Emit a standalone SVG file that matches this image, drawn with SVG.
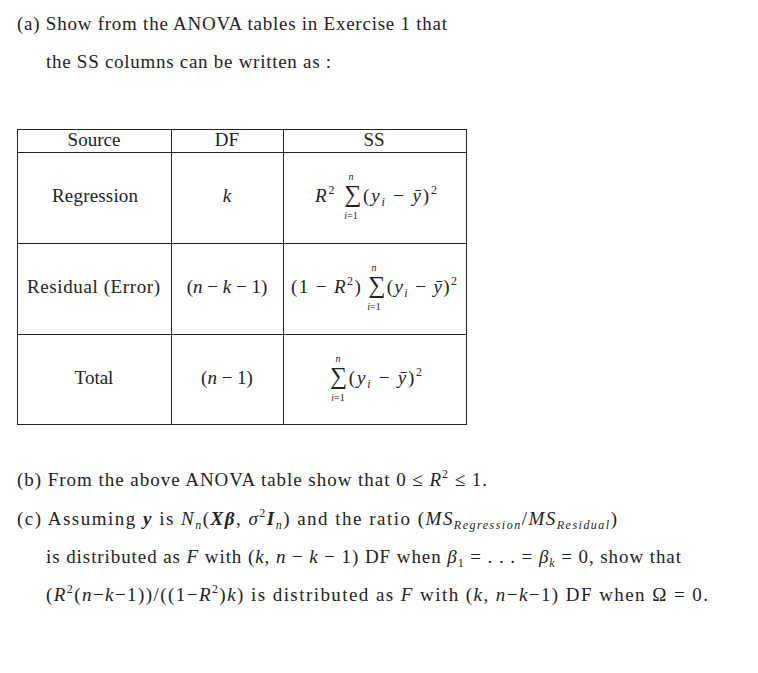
<svg xmlns="http://www.w3.org/2000/svg" width="758" height="673" viewBox="0 0 758 673">
<style>
text{font-family:"Liberation Serif","DejaVu Serif",serif;font-size:19px;fill:#222}
.i{font-style:italic}
.s{font-size:12px}
.t{font-size:10px}
.S{font-size:24px}
.b{font-weight:bold;font-style:italic}
line{stroke:#222;stroke-width:1}
</style>
<rect width="758" height="673" fill="#fff"/>
<text x="17" y="30" textLength="430" lengthAdjust="spacing">(a) Show from the ANOVA tables in Exercise 1 that</text>
<text x="46" y="68" textLength="285" lengthAdjust="spacing">the SS columns can be written as :</text>
<g id="table">
<rect x="17.5" y="129.5" width="449" height="295" fill="none" stroke="#222"/>
<line x1="171.5" y1="129" x2="171.5" y2="425"/>
<line x1="283.5" y1="129" x2="283.5" y2="425"/>
<line x1="17" y1="152.5" x2="466" y2="152.5"/>
<line x1="17" y1="243.5" x2="466" y2="243.5"/>
<line x1="17" y1="334.5" x2="466" y2="334.5"/>
</g>
<g id="header">
<text x="94" y="146" text-anchor="middle">Source</text>
<text x="227" y="146" text-anchor="middle">DF</text>
<text x="374" y="146" text-anchor="middle">SS</text>
</g>
<g id="row-regression">
<text x="52" y="202" textLength="86" lengthAdjust="spacing">Regression</text>
<text x="227" y="202" text-anchor="middle" class="i">k</text>
<text x="315" y="202" textLength="122" lengthAdjust="spacing"><tspan class="i">R</tspan><tspan class="s" dy="-8">2</tspan><tspan class="S" dy="8"> ∑</tspan><tspan>(</tspan><tspan class="i">y</tspan><tspan class="s i" dy="4">i</tspan><tspan dy="-4"> − </tspan><tspan class="i">ȳ</tspan><tspan>)</tspan><tspan class="s" dy="-8">2</tspan></text>
<text x="351" y="180" class="t i" text-anchor="middle">n</text>
<text x="351" y="219" class="t" text-anchor="middle"><tspan class="i">i</tspan>=1</text>
</g>
<g id="row-residual">
<text x="27" y="293" textLength="133" lengthAdjust="spacing">Residual (Error)</text>
<text x="227" y="293" text-anchor="middle">(<tspan class="i">n</tspan> − <tspan class="i">k</tspan> − 1)</text>
<text x="291" y="293" textLength="166" lengthAdjust="spacing">(1 − <tspan class="i">R</tspan><tspan class="s" dy="-8">2</tspan><tspan dy="8">) </tspan><tspan class="S">∑</tspan><tspan>(</tspan><tspan class="i">y</tspan><tspan class="s i" dy="4">i</tspan><tspan dy="-4"> − </tspan><tspan class="i">ȳ</tspan>)<tspan class="s" dy="-8">2</tspan></text>
<text x="374" y="271" class="t i" text-anchor="middle">n</text>
<text x="374" y="310" class="t" text-anchor="middle"><tspan class="i">i</tspan>=1</text>
</g>
<g id="row-total">
<text x="94" y="384" text-anchor="middle">Total</text>
<text x="227" y="384" text-anchor="middle">(<tspan class="i">n</tspan> − 1)</text>
<text x="330" y="384" textLength="92" lengthAdjust="spacing"><tspan class="S">∑</tspan>(<tspan class="i">y</tspan><tspan class="s i" dy="4">i</tspan><tspan dy="-4"> − </tspan><tspan class="i">ȳ</tspan>)<tspan class="s" dy="-8">2</tspan></text>
<text x="338" y="362" class="t i" text-anchor="middle">n</text>
<text x="338" y="401" class="t" text-anchor="middle"><tspan class="i">i</tspan>=1</text>
</g>
<text x="17" y="486" textLength="470" lengthAdjust="spacing">(b) From the above ANOVA table show that 0 ≤ <tspan class="i">R</tspan><tspan class="s" dy="-8">2</tspan><tspan dy="8"> ≤ 1.</tspan></text>
<text x="17" y="525" textLength="600" lengthAdjust="spacing">(c) Assuming <tspan class="b">y</tspan> is <tspan class="i">N</tspan><tspan class="s i" dy="4">n</tspan><tspan dy="-4">(</tspan><tspan class="b">Xβ</tspan>, <tspan class="i">σ</tspan><tspan class="s" dy="-8">2</tspan><tspan class="b" dy="8">I</tspan><tspan class="s i" dy="4">n</tspan><tspan dy="-4">) and the ratio (</tspan><tspan class="i">MS</tspan><tspan class="s i" dy="4">Regression</tspan><tspan dy="-4">/</tspan><tspan class="i">MS</tspan><tspan class="s i" dy="4">Residual</tspan><tspan dy="-4">)</tspan></text>
<text x="46" y="563" textLength="635" lengthAdjust="spacing">is distributed as <tspan class="i">F</tspan> with (<tspan class="i">k</tspan>, <tspan class="i">n</tspan> − <tspan class="i">k</tspan> − 1) DF when <tspan class="i">β</tspan><tspan class="s" dy="4">1</tspan><tspan dy="-4"> = . . . = </tspan><tspan class="i">β</tspan><tspan class="s i" dy="4">k</tspan><tspan dy="-4"> = 0, show that</tspan></text>
<text x="46" y="601" textLength="662" lengthAdjust="spacing">(<tspan class="i">R</tspan><tspan class="s" dy="-8">2</tspan><tspan dy="8">(</tspan><tspan class="i">n</tspan>−<tspan class="i">k</tspan>−1))/((1−<tspan class="i">R</tspan><tspan class="s" dy="-8">2</tspan><tspan dy="8">)</tspan><tspan class="i">k</tspan>) is distributed as <tspan class="i">F</tspan> with (<tspan class="i">k</tspan>, <tspan class="i">n</tspan>−<tspan class="i">k</tspan>−1) DF when Ω = 0.</text>
</svg>
